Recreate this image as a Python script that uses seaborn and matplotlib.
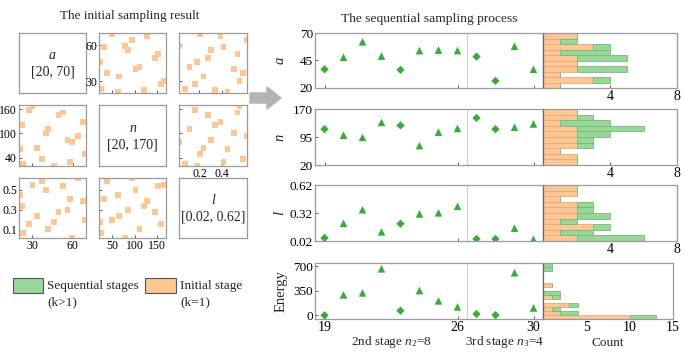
import numpy as np
import pandas as pd
import matplotlib
matplotlib.use("Agg")
from matplotlib import pyplot as plt
from matplotlib.patches import Rectangle, FancyArrow
import seaborn as sns

# initial stage samples (k=1), 18 points
init_a = [64.3, 36.9, 30.0, 52.6, 40.2, 20.7, 58.1, 67.5, 22.7, 56.1, 49.4, 33.7, 69.3, 46.1, 27.7, 41.9, 23.2, 59.3]
init_n = [93.5, 37.8, 166.3, 151.4, 101.7, 62.3, 30.4, 127.7, 120.3, 84.6, 145.5, 64.6, 49.0, 21.5, 158.1, 110.6, 24.5, 78.7]
init_l = [0.615, 0.587, 0.553, 0.537, 0.503, 0.447, 0.413, 0.387, 0.337, 0.300, 0.277, 0.237, 0.203, 0.177, 0.160, 0.113, 0.070, 0.025]

# sequential samples, k = 19..30
seq_k = list(range(19, 31))
seq_kind = ['D', 'T', 'T', 'T', 'D', 'T', 'T', 'T', 'D', 'D', 'T', 'T']
seq_a = [37, 48, 62, 49, 36.5, 54, 54.5, 54, 48.5, 26.5, 58, 37]
seq_n = [116, 100, 94, 134, 126, 72, 108, 118, 146, 116, 121, 130]
seq_l = [0.053, 0.21, 0.355, 0.118, 0.205, 0.31, 0.322, 0.391, 0.042, 0.042, 0.158, 0.038]
seq_energy = [0, 290, 318, 660, 66, 352, 205, 120, 19, 3, 605, 105]

# histogram counts, bins from bottom to top
a_edges = np.linspace(20, 70, 11)
a_init_cnt = [1, 3, 1, 2, 2, 2, 1, 3, 1, 2]
a_seq_cnt = [0, 1, 0, 3, 0, 3, 3, 1, 1, 0]
n_edges = np.linspace(20, 170, 11)
n_init_cnt = [2, 2, 1, 2, 2, 2, 2, 1, 2, 2]
n_seq_cnt = [0, 0, 0, 1, 1, 2, 4, 3, 1, 0]
l_edges = np.linspace(0.02, 0.62, 11)
l_init_cnt = [2, 1, 3, 1, 2, 2, 2, 1, 2, 2]
l_seq_cnt = [4, 2, 1, 1, 2, 1, 1, 0, 0, 0]
e_edges = np.linspace(-45, 745, 15)
e_init_cnt = [10, 2, 1, 3, 0, 1, 0, 0, 1, 0, 0, 0, 0, 0]
e_seq_cnt = [3, 2, 1, 1, 0, 1, 2, 0, 0, 0, 0, 0, 1, 1]

var_names = ['a', 'n', 'l']
var_ranges = [(20, 70), (20, 170), (0.02, 0.62)]
var_range_text = ['[20, 70]', '[20, 170]', '[0.02, 0.62]']
var_ticks = [[30, 60], [40, 100, 160], [0.1, 0.3, 0.5]]
var_xticks = [[30, 60], [50, 100, 150], [0.2, 0.4]]

sns.set_style("ticks")
plt.rcParams['font.family'] = ['Liberation Serif', 'DejaVu Serif']
plt.rcParams['mathtext.fontset'] = 'custom'
plt.rcParams['mathtext.rm'] = 'Liberation Serif'
plt.rcParams['mathtext.it'] = 'Liberation Serif:italic'
plt.rcParams['xtick.direction'] = 'in'
plt.rcParams['ytick.direction'] = 'in'
plt.rcParams['xtick.major.size'] = 2.5
plt.rcParams['ytick.major.size'] = 2.5

W, H = 685, 354
fig = plt.figure(figsize=(W / 100, H / 100), dpi=100)

ORANGE = '#fcc794'
ORANGE_EDGE = '#e8aa78'
GREEN = '#98d69a'
GREEN_EDGE = '#74bb76'
MARK = '#3aaa3c'
FRAME = '#9a9a9a'


def px_axes(x0, y0, x1, y1):
    return fig.add_axes([x0 / W, 1 - y1 / H, (x1 - x0) / W, (y1 - y0) / H])


def style_frame(ax, size=8.5, color=FRAME):
    for s in ax.spines.values():
        s.set_color(color)
        s.set_linewidth(0.9)
    ax.tick_params(colors='#555555', labelcolor='black', labelsize=size, width=0.7, pad=1.5)


# ---- initial sampling scatter matrix ----
df_init = pd.DataFrame({'a': init_a, 'n': init_n, 'l': init_l})
cols = [(19, 86), (99, 166), (179, 247)]
rows = [(33, 93), (105, 166), (178, 238)]
for i in range(3):
    for j in range(3):
        ax = px_axes(cols[j][0], rows[i][0], cols[j][1], rows[i][1])
        style_frame(ax)
        if i == j:
            ax.set_xticks([])
            ax.set_yticks([])
            ax.text(0.5, 0.62, var_names[i], style='italic', ha='center', va='center',
                    fontsize=10, transform=ax.transAxes)
            ax.text(0.5, 0.35, var_range_text[i], ha='center', va='center',
                    fontsize=10, transform=ax.transAxes)
            continue
        sns.scatterplot(data=df_init, x=var_names[j], y=var_names[i], marker='s', s=17,
                        color=ORANGE, edgecolor='none', ax=ax, clip_on=True)
        ax.set_xlim(var_ranges[j])
        ax.set_ylim(var_ranges[i])
        ax.set_xlabel('')
        ax.set_ylabel('')
        ax.set_xticks(var_xticks[j])
        ax.set_yticks(var_ticks[i])
        if i != 2 and not (i == 1 and j == 2):
            ax.set_xticklabels([])
        if j != 0 and not (i == 0 and j == 1):
            ax.set_yticklabels([])

fig.text(130 / W, 1 - 16 / H, 'The initial sampling result', ha='center', va='center', fontsize=9.5)

# legend drawn by hand
fig.add_artist(Rectangle((13 / W, 1 - 293 / H), 30 / W, 15 / H, facecolor=GREEN,
                         edgecolor='#555555', lw=0.8, transform=fig.transFigure))
fig.add_artist(Rectangle((145 / W, 1 - 293 / H), 31 / W, 15 / H, facecolor=ORANGE,
                         edgecolor='#555555', lw=0.8, transform=fig.transFigure))
fig.text(47 / W, 1 - 286 / H, 'Sequential stages', va='center', fontsize=9.5)
fig.text(47 / W, 1 - 302 / H, '(k>1)', va='center', fontsize=9.5)
fig.text(180 / W, 1 - 286 / H, 'Initial stage', va='center', fontsize=9.5)
fig.text(180 / W, 1 - 302 / H, '(k=1)', va='center', fontsize=9.5)

# arrow
fig.add_artist(FancyArrow(2.50, 2.56, 0.17, 0, width=0.1, head_width=0.22, head_length=0.14,
                          length_includes_head=False, color='#b4b4b4',
                          transform=fig.dpi_scale_trans))

# ---- sequential sampling process ----
df_seq = pd.DataFrame({'k': seq_k, 'kind': seq_kind, 'a': seq_a, 'n': seq_n,
                       'l': seq_l, 'Energy': seq_energy})
panels = [
    ('a', (33, 88), (20, 70), [20, 45, 70], ['20', '45', '70'], a_edges, a_init_cnt, a_seq_cnt, (0, 8), [4, 8], 677),
    ('n', (109, 165), (20, 170), [20, 95, 170], ['20', '95', '170'], n_edges, n_init_cnt, n_seq_cnt, (0, 8), [4, 8], 677),
    ('l', (185, 241), (0.02, 0.62), [0.02, 0.32, 0.62], ['0.02', '0.32', '0.62'], l_edges, l_init_cnt, l_seq_cnt, (0, 8), [4, 8], 677),
    ('Energy', (263, 319), (-52, 743), [0, 350, 700], ['0', '350', '700'], e_edges, e_init_cnt, e_seq_cnt, (0, 15), [5, 10, 15], 673),
]
for idx, (var, (y0, y1), ylim, yt, ytl, edges, icnt, scnt, cxlim, cxt, hx1) in enumerate(panels):
    ax = px_axes(315, y0, 543, y1)
    style_frame(ax, size=10)
    ax.tick_params(axis='y', labelsize=9.5)
    ax.axvline(26.5, color='#cccccc', lw=0.8, zorder=0)
    sns.scatterplot(data=df_seq, x='k', y=var, style='kind', markers={'D': 'D', 'T': '^'},
                    size='kind', sizes={'D': 18, 'T': 30},
                    color=MARK, edgecolor='none', legend=False, ax=ax)
    ax.set_xlim(18.5, 30.5)
    ax.set_ylim(ylim)
    ax.set_xticks([19, 26, 30])
    ax.set_yticks(yt)
    ax.set_yticklabels(ytl)
    ax.set_xlabel('')
    if var == 'Energy':
        ax.set_ylabel('Energy', fontsize=10.5)
        ax.yaxis.set_label_coords(-0.12, 0.5)
        ax.text(22.5, -0.27, '2nd stage $n_2$=8', transform=ax.get_xaxis_transform(),
                ha='center', va='top', fontsize=9.5)
        ax.text(28.5, -0.27, '3rd stage $n_3$=4', transform=ax.get_xaxis_transform(),
                ha='center', va='top', fontsize=9.5)
    else:
        ax.set_ylabel(var, style='italic', fontsize=10.5)
        ax.yaxis.set_label_coords(-0.125, 0.5)
        ax.set_xticklabels([])
    if idx == 0:
        ax.set_title('The sequential sampling process', fontsize=9.7, pad=8)

    hx = px_axes(543, y0, hx1, y1)
    style_frame(hx, size=10)
    hx.spines['left'].set_color('#666666')
    centers = (edges[:-1] + edges[1:]) / 2
    bw = edges[1] - edges[0]
    hx.barh(centers, icnt, height=bw, color=ORANGE, edgecolor=ORANGE_EDGE, lw=0.6)
    hx.barh(centers, scnt, left=icnt, height=bw, color=GREEN, edgecolor=GREEN_EDGE, lw=0.6)
    hx.set_ylim(ylim)
    hx.set_xlim(cxlim)
    hx.set_xticks(cxt)
    hx.set_yticks(yt)
    hx.set_yticklabels([])
    hx.tick_params(axis='y', length=2)
    if var == 'Energy':
        hx.set_xlabel('Count', fontsize=9.5, labelpad=2)

fig.savefig('out.png', dpi=100)
